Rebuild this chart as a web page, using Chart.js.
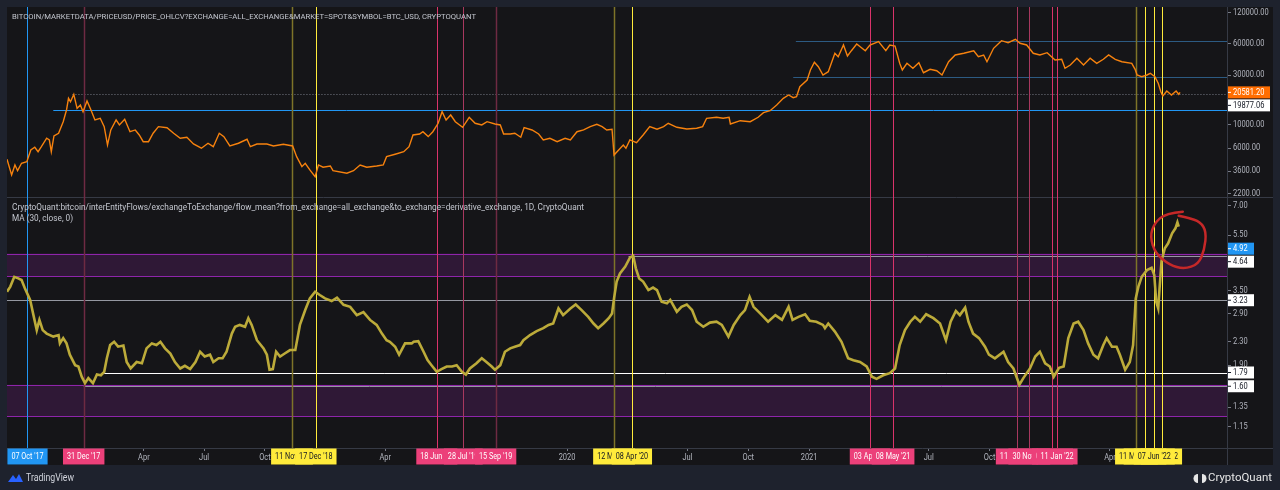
<!DOCTYPE html>
<html>
<head>
<meta charset="utf-8">
<script src="https://cdn.jsdelivr.net/npm/chart.js@4.4.0/dist/chart.umd.min.js"></script>
<style>
  html, body { margin: 0; padding: 0; background: #1e222d; }
  canvas { display: block; }
</style>
</head>
<body>
<canvas id="chart" width="1280" height="490"></canvas>
<script>
// days are counted from 2017-09-01
const START = Date.UTC(2017, 8, 1);

const priceDays = [
  5, 12, 17, 21, 27, 35, 41, 47, 52, 57,
  65, 69, 72, 76, 83, 90, 95, 98, 101, 106,
  111, 116, 120, 126, 132, 138, 146, 152, 157, 162,
  170, 175, 183, 191, 199, 205, 211, 219, 226, 234,
  247, 257, 267, 277, 287, 299, 309, 317, 326, 333,
  342, 355, 368, 373, 383, 398, 408, 423, 437, 443,
  451, 456, 463, 471, 476, 483, 494, 498, 519, 529,
  539, 549, 564, 574, 579, 592, 605, 613, 619, 629,
  634, 642, 649, 657, 663, 669, 676, 683, 694, 704,
  713, 723, 731, 743, 751, 756, 766, 773, 782, 787,
  799, 809, 816, 826, 837, 849, 857, 867, 877, 887,
  897, 905, 912, 920, 923, 930, 937, 941, 947, 957,
  967, 977, 988, 998, 1005, 1018, 1033, 1048, 1057, 1063,
  1078, 1088, 1097, 1099, 1114, 1129, 1141, 1149, 1159, 1169,
  1179, 1187, 1194, 1199, 1204, 1215, 1220, 1226, 1232, 1239,
  1247, 1257, 1262, 1270, 1276, 1282, 1290, 1303, 1310, 1323,
  1334, 1340, 1348, 1355, 1359, 1366, 1375, 1384, 1391, 1401,
  1411, 1419, 1429, 1439, 1452, 1467, 1474, 1482, 1487, 1497,
  1509, 1519, 1530, 1537, 1547, 1557, 1567, 1578, 1590, 1600,
  1605, 1613, 1623, 1633, 1643, 1653, 1663, 1671, 1681, 1691,
  1706, 1711, 1714, 1721, 1729, 1734, 1741, 1746, 1750, 1753,
  1759, 1766, 1773, 1777, 1779
];
const priceValues = [
  4690, 3310, 4130, 3640, 4290, 4440, 5760, 6110, 5540, 6190,
  7460, 7180, 5540, 7850, 8330, 10760, 13940, 18050, 16740, 19650,
  14470, 15570, 13420, 17010, 13940, 11180, 11600, 9640, 6430, 8960,
  11180, 10010, 11350, 8620, 8960, 8020, 6910, 6910, 8330, 9640,
  9420, 8330, 7460, 7630, 6570, 5980, 6680, 6190, 8330, 7730,
  6290, 6680, 7290, 6190, 6570, 6570, 6290, 6530, 6290, 4960,
  3980, 4290, 3700, 3190, 4130, 3930, 4040, 3640, 3440, 3640,
  4130, 3930, 4040, 4130, 4960, 5240, 5540, 6190, 8020, 8200,
  8620, 7730, 8620, 10390, 13420, 11180, 12480, 10760, 9510, 11870,
  10390, 10010, 10760, 10230, 10010, 8200, 8200, 8330, 7630, 9420,
  8960, 8200, 7180, 7460, 6910, 7460, 7180, 8620, 8960, 9640,
  10160, 9640, 8960, 9100, 5150, 5760, 6430, 5980, 7180, 6770,
  8020, 9640, 9100, 9640, 10390, 9510, 9160, 9300, 9640, 11600,
  11870, 11600, 11870, 10230, 11000, 10760, 11870, 13130, 13720, 15570,
  18050, 19430, 18290, 18710, 23340, 27060, 33760, 40020, 36320, 30230,
  32500, 48840, 45310, 58690, 46010, 51720, 60000, 51720, 58690, 63140,
  51720, 58690, 57390, 39150, 33760, 39150, 35050, 39680, 31810, 34280,
  33230, 30230, 40550, 47040, 48840, 51720, 45310, 47040, 40550, 54540,
  64540, 61740, 66580, 60940, 58690, 48840, 47040, 49500, 42120, 42760,
  35050, 37710, 43720, 37710, 43720, 39150, 42760, 47040, 42760, 40550,
  39150, 34280, 30230, 29110, 30230, 31380, 29110, 25160, 20890, 19000,
  21220, 19430, 21220, 19730, 20581.2
];

// MA(30) of exchange -> derivative exchange flow mean
const flowDays = [
  5, 10, 16, 22, 27, 32, 40, 45, 50, 54,
  59, 65, 75, 83, 85, 90, 95, 100, 108, 113,
  118, 123, 128, 135, 141, 147, 152, 156, 161, 167,
  173, 181, 186, 192, 201, 209, 216, 224, 231, 237,
  244, 252, 259, 267, 274, 282, 290, 297, 304, 312,
  317, 325, 331, 337, 345, 350, 357, 365, 370, 375,
  383, 393, 398, 402, 407, 412, 418, 425, 433, 441,
  448, 456, 463, 471, 478, 486, 496, 504, 514, 524,
  534, 544, 554, 564, 572, 579, 584, 592, 598, 607,
  617, 620, 627, 635, 641, 647, 655, 662, 670, 678,
  685, 693, 699, 705, 715, 723, 730, 738, 743, 751,
  758, 766, 773, 781, 786, 796, 806, 816, 824, 831,
  839, 846, 857, 865, 874, 884, 892, 899, 907, 915,
  920, 923, 927, 932, 940, 947, 952, 956, 961, 967,
  975, 982, 988, 995, 1003, 1008, 1018, 1025, 1033, 1041,
  1048, 1058, 1068, 1078, 1086, 1096, 1104, 1114, 1121, 1128,
  1134, 1144, 1156, 1167, 1177, 1187, 1193, 1202, 1212, 1219,
  1229, 1239, 1242, 1247, 1257, 1267, 1277, 1285, 1295, 1305,
  1313, 1320, 1330, 1340, 1348, 1355, 1363, 1371, 1378, 1386,
  1395, 1406, 1416, 1425, 1432, 1440, 1446, 1454, 1459, 1466,
  1475, 1484, 1490, 1499, 1512, 1519, 1527, 1536, 1542, 1552,
  1560, 1567, 1575, 1582, 1588, 1596, 1603, 1610, 1618, 1625,
  1633, 1640, 1648, 1655, 1663, 1668, 1676, 1683, 1688, 1696,
  1703, 1708, 1712, 1716, 1721, 1729, 1736, 1740, 1743, 1746,
  1748, 1751, 1756, 1761, 1767, 1772, 1775, 1777
];
const flowValues = [
  3.46, 3.61, 3.91, 3.86, 3.81, 3.56, 3.24, 2.86, 2.53, 2.75,
  2.53, 2.46, 2.40, 2.43, 2.27, 2.37, 2.27, 2.07, 1.90, 1.88,
  1.73, 1.64, 1.71, 1.64, 1.76, 1.75, 1.80, 2.01, 2.24, 2.30,
  2.21, 2.23, 1.95, 1.85, 1.95, 1.93, 2.18, 2.27, 2.24, 2.30,
  2.18, 2.09, 1.95, 1.85, 1.89, 1.84, 1.95, 2.12, 2.04, 2.07,
  1.95, 2.01, 2.01, 2.12, 2.46, 2.60, 2.64, 2.60, 2.79, 2.64,
  2.33, 2.18, 2.07, 1.83, 1.84, 2.12, 2.04, 2.09, 2.15, 2.15,
  2.64, 2.98, 3.28, 3.46, 3.37, 3.28, 3.21, 3.30, 3.11, 3.06,
  2.86, 2.93, 2.75, 2.64, 2.46, 2.33, 2.30, 2.21, 2.07, 2.27,
  2.27, 2.30, 2.31, 2.12, 1.98, 1.90, 1.80, 1.84, 1.88, 1.88,
  1.90, 1.80, 1.76, 1.85, 1.93, 2.01, 1.95, 1.88, 1.83, 1.90,
  2.12, 2.18, 2.21, 2.24, 2.33, 2.43, 2.51, 2.57, 2.64, 2.67,
  3.02, 2.86, 3.02, 3.12, 2.98, 2.82, 2.67, 2.57, 2.67, 2.79,
  2.90, 3.28, 3.76, 4.02, 4.25, 4.57, 4.64, 4.19, 3.86, 3.76,
  3.51, 3.58, 3.51, 3.19, 3.15, 3.24, 2.94, 3.06, 3.12, 2.98,
  2.71, 2.60, 2.69, 2.71, 2.64, 2.40, 2.64, 2.86, 2.98, 3.32,
  3.06, 2.90, 2.71, 2.86, 2.75, 3.06, 2.75, 2.82, 2.88, 2.73,
  2.71, 2.64, 2.57, 2.67, 2.50, 2.30, 2.01, 1.98, 1.95, 1.88,
  1.73, 1.70, 1.75, 1.78, 1.85, 2.24, 2.53, 2.71, 2.82, 2.71,
  2.88, 2.79, 2.67, 2.33, 2.71, 2.96, 2.86, 3.04, 2.71, 2.46,
  2.37, 2.21, 2.07, 2.01, 2.12, 1.95, 1.85, 1.62, 1.71, 1.85,
  2.04, 2.12, 1.93, 1.88, 1.73, 1.86, 1.88, 2.37, 2.67, 2.71,
  2.53, 2.27, 2.07, 2.01, 2.24, 2.37, 2.21, 2.21, 2.07, 1.83,
  1.95, 2.24, 3.28, 3.61, 3.91, 4.13, 4.21, 3.97, 3.19, 3.02,
  3.56, 4.45, 4.94, 5.14, 5.58, 5.81, 6.10, 5.89
];

// axis ticks
const priceTicks = [2200, 3600, 6000, 10000, 30000, 60000, 120000];
const flowTicks = [1.15, 1.35, 1.90, 2.30, 2.90, 3.50, 5.50, 7.00];
const timeTickDates = [
  '2017-10-01', '2018-01-01', '2018-04-01', '2018-07-01', '2018-10-01',
  '2019-01-01', '2019-04-01', '2019-07-01', '2019-10-01', '2020-01-01',
  '2020-04-01', '2020-07-01', '2020-10-01', '2021-01-01', '2021-04-01',
  '2021-07-01', '2021-10-01', '2022-01-01', '2022-04-01', '2022-07-01'
];
const timeTickLabels = [
  'Oct', '2018', 'Apr', 'Jul', 'Oct',
  '2019', 'Apr', 'Jul', 'Oct', '2020',
  'Apr', 'Jul', 'Oct', '2021', 'Apr',
  'Jul', 'Oct', '2022', 'Apr', 'Jul'
];

// vertical markers (drawing order matters for the overlapping date boxes)
const markerDates = [
  '2017-10-07', '2017-12-31', '2018-11-11', '2018-12-17', '2019-06-18',
  '2019-07-28', '2019-09-15', '2020-03-12', '2020-04-08', '2021-04-03',
  '2021-05-08', '2021-11-11', '2021-11-30', '2022-01-04', '2022-01-11',
  '2022-05-24', '2022-05-11', '2022-06-18', '2022-06-07'
];
const markerLabels = [
  "07 Oct '17", "31 Dec '17", "11 Nov '18", "17 Dec '18", "18 Jun '19",
  "28 Jul '19", "15 Sep '19", "12 Mar '20", "08 Apr '20", "03 Apr '21",
  "08 May '21", "11 Nov '21", "30 Nov '21", "04 Jan '22", "11 Jan '22",
  "24 May '22", "11 May '22", "18 Jun '22", "07 Jun '22"
];
const markerKinds = [
  'blue', 'maroon', 'olive', 'yellow', 'pink',
  'rose', 'maroon', 'olive', 'yellow', 'pink',
  'pink', 'rose', 'rose', 'pink', 'pink',
  'yellow', 'olive', 'yellow', 'yellow'
];

// horizontal levels
const priceLevelValues = [13900, 19877.06, 64400, 28900];
const priceLevelFrom = ['2017-11-15', '2017-12-14', '2020-12-12', '2020-12-08'];
const flowBands = [[3.93, 4.73], [1.25, 1.62]];
const flowLevelValues = [3.23, 4.64, 1.60, 1.79];
const flowLevelFrom = ['2017-09-06', '2020-04-03', '2017-12-31', '2018-01-31'];

// last-value labels on the right axis
const priceLabelValues = [20581.20, 19877.06];
const flowLabelValues = [4.92, 4.64, 3.23, 1.79, 1.60];

const FRAME = '#1e222d';
const PANEL = '#151518';
const TEXT = '#b2b5be';
const FONT = 'Roboto, "Noto Sans", "DejaVu Sans", sans-serif';

const toDay = s => (Date.parse(s + 'T00:00:00Z') - START) / 86400000;

function txt(ctx, s, x, y, o) {
  ctx.save();
  ctx.font = (o.weight ? o.weight + ' ' : '') + o.size + 'px ' + FONT;
  ctx.fillStyle = o.color;
  ctx.textBaseline = 'middle';
  ctx.textAlign = 'left';
  const w0 = ctx.measureText(s).width;
  const sx = o.width ? o.width / w0 : (o.sx || 1);
  const w = w0 * sx;
  let left = x;
  if (o.align === 'center') left = x - w / 2;
  if (o.align === 'right') left = x - w;
  ctx.translate(left, y);
  ctx.scale(sx, 1);
  ctx.fillText(s, 0, 0);
  ctx.restore();
  return w;
}

function measure(ctx, s, size, sx) {
  ctx.save();
  ctx.font = size + 'px ' + FONT;
  const w = ctx.measureText(s).width * sx;
  ctx.restore();
  return w;
}

function hline(ctx, x1, x2, y) {
  ctx.beginPath();
  ctx.moveTo(x1, Math.round(y) + 0.5);
  ctx.lineTo(x2, Math.round(y) + 0.5);
  ctx.stroke();
}

const lineColors = {
  blue: '#2196f3', maroon: '#6e2a42', olive: '#7e7428', yellow: '#ffeb3b',
  pink: '#d9336a', rose: '#a8385f'
};
const boxColors = {
  blue: '#2196f3', maroon: '#ec407a', olive: '#ffeb3b', yellow: '#ffeb3b',
  pink: '#ec407a', rose: '#ec407a'
};

const panesPlugin = {
  id: 'panes',
  beforeDraw(chart) {
    const ctx = chart.ctx;
    ctx.save();
    ctx.fillStyle = FRAME;
    ctx.fillRect(0, 0, 1280, 490);
    ctx.fillStyle = PANEL;
    ctx.fillRect(7, 7, 1266, 458);
    ctx.restore();
  },
  beforeDatasetsDraw(chart) {
    const { ctx, chartArea: a, scales: { x, yPrice, yFlow } } = chart;
    ctx.save();

    // purple zones in the flow pane
    flowBands.forEach(([lo, hi]) => {
      const y1 = yFlow.getPixelForValue(hi);
      const y2 = yFlow.getPixelForValue(lo);
      ctx.fillStyle = 'rgba(156, 39, 176, 0.2)';
      ctx.fillRect(a.left, y1, a.right - a.left, y2 - y1);
      ctx.strokeStyle = '#8e24aa';
      ctx.lineWidth = 1;
      hline(ctx, a.left, a.right, y1);
      hline(ctx, a.left, a.right, y2);
    });

    // pane separator
    ctx.strokeStyle = '#363a45';
    ctx.lineWidth = 1;
    hline(ctx, 7, 1273, yPrice.bottom);

    // price levels
    priceLevelValues.forEach((v, i) => {
      const x1 = x.getPixelForValue(toDay(priceLevelFrom[i]));
      const y = yPrice.getPixelForValue(v);
      ctx.setLineDash([]);
      if (i === 0) { ctx.strokeStyle = '#2196f3'; }
      else if (i === 1) { ctx.strokeStyle = '#787b86'; ctx.setLineDash([1, 2]); }
      else { ctx.strokeStyle = '#2c5a82'; }
      hline(ctx, x1, a.right, y);
    });
    ctx.setLineDash([]);

    // flow levels
    flowLevelValues.forEach((v, i) => {
      const x1 = x.getPixelForValue(toDay(flowLevelFrom[i]));
      const y = yFlow.getPixelForValue(v);
      ctx.strokeStyle = v === 1.79 ? '#ffffff' : '#9598a1';
      hline(ctx, Math.max(a.left, x1), a.right, y);
    });

    // vertical markers
    markerDates.forEach((d, i) => {
      const px = Math.round(x.getPixelForValue(toDay(d))) + 0.5;
      const kind = markerKinds[i];
      ctx.strokeStyle = lineColors[kind];
      ctx.lineWidth = kind === 'maroon' || kind === 'olive' ? 1.5 : 1;
      ctx.beginPath();
      ctx.moveTo(px, a.top);
      ctx.lineTo(px, a.bottom);
      ctx.stroke();
    });
    ctx.restore();
  },
  afterDraw(chart) {
    const { ctx, chartArea: a, scales: { x, yPrice, yFlow } } = chart;
    ctx.save();

    // axis frame extensions
    ctx.strokeStyle = '#363a45';
    ctx.lineWidth = 1;
    ctx.beginPath();
    ctx.moveTo(a.right + 0.5, a.bottom);
    ctx.lineTo(a.right + 0.5, 465);
    ctx.stroke();
    hline(ctx, a.right, 1273, a.bottom);

    // titles
    txt(ctx, 'BITCOIN/MARKETDATA/PRICEUSD/PRICE_OHLCV?EXCHANGE=ALL_EXCHANGE&MARKET=SPOT&SYMBOL=BTC_USD, CRYPTOQUANT',
      12, yPrice.top + 9.5, { size: 8, color: '#c3c6ce', width: 464 });
    txt(ctx, 'CryptoQuant:bitcoin/interEntityFlows/exchangeToExchange/flow_mean?from_exchange=all_exchange&to_exchange=derivative_exchange, 1D, CryptoQuant',
      12, yFlow.top + 10.5, { size: 8.5, color: '#c3c6ce', width: 572 });
    txt(ctx, 'MA (30, close, 0)', 12, yFlow.top + 22, { size: 8.5, color: '#c3c6ce', width: 61 });

    // right axis tick labels
    yPrice.ticks.forEach(t => {
      txt(ctx, t.value.toFixed(2), a.right + 6, yPrice.getPixelForValue(t.value), { size: 8.5, color: TEXT, sx: 0.88 });
    });
    yFlow.ticks.forEach(t => {
      txt(ctx, t.value.toFixed(2), a.right + 6, yFlow.getPixelForValue(t.value), { size: 8.5, color: TEXT, sx: 0.88 });
    });

    // right axis value boxes
    const axisBoxes = (scale, values, width, styles) => {
      let prevBottom = -Infinity;
      values.forEach((v, i) => {
        const c = scale.getPixelForValue(v);
        const top = Math.max(c - 6, prevBottom + 1);
        prevBottom = top + 12;
        ctx.fillStyle = styles[i][0];
        ctx.fillRect(a.right + 1, top, width, 12);
        ctx.fillStyle = styles[i][1];
        ctx.fillRect(a.right + 1, top + 5.5, 3, 1);
        txt(ctx, v.toFixed(2), a.right + 6, top + 6.5, { size: 8.5, color: styles[i][1], sx: 0.88 });
      });
    };
    axisBoxes(yPrice, priceLabelValues, 42, [['#ff6d00', '#ffffff'], ['#ffffff', '#131722']]);
    axisBoxes(yFlow, flowLabelValues, 26, [['#2196f3', '#ffffff'], ['#ffffff', '#131722'], ['#ffffff', '#131722'], ['#ffffff', '#131722'], ['#ffffff', '#131722']]);

    // time axis labels
    x.ticks.forEach(t => {
      const i = timeTickDates.findIndex(d => toDay(d) === t.value);
      txt(ctx, timeTickLabels[i], x.getPixelForValue(t.value), a.bottom + 9.5, { size: 8.5, color: TEXT, sx: 0.88, align: 'center' });
    });

    // date boxes of the markers
    markerDates.forEach((d, i) => {
      const px = x.getPixelForValue(toDay(d));
      const kind = markerKinds[i];
      const w = measure(ctx, markerLabels[i], 8.5, 0.85) + 8;
      const left = Math.max(7, px - w / 2);
      ctx.fillStyle = boxColors[kind];
      ctx.fillRect(left, a.bottom + 0.5, w, 16);
      const fg = boxColors[kind] === '#ffeb3b' ? '#131722' : '#ffffff';
      txt(ctx, markerLabels[i], left + w / 2, a.bottom + 9, { size: 8.5, color: fg, sx: 0.85, align: 'center' });
    });

    // hand drawn red circle around the latest readings
    const cx = x.getPixelForValue(toDay('2022-07-13'));
    const cy = yFlow.getPixelForValue(5.28);
    const loop = [[4.7, -28.3], [-12.5, -26.7], [-23.9, -16.7], [-28, -3.3], [-22.7, 13.3], [-8.4, 25],
      [5.9, 29], [20.2, 24.3], [26.3, 10], [28.3, -8.3], [22.2, -18.3], [10, -22.3], [0.6, -24.3]];
    ctx.strokeStyle = '#c62828';
    ctx.lineWidth = 2.5;
    ctx.lineCap = 'round';
    ctx.beginPath();
    ctx.moveTo(cx + loop[0][0], cy + loop[0][1]);
    for (let i = 1; i < loop.length - 1; i++) {
      const mx = (loop[i][0] + loop[i + 1][0]) / 2;
      const my = (loop[i][1] + loop[i + 1][1]) / 2;
      ctx.quadraticCurveTo(cx + loop[i][0], cy + loop[i][1], cx + mx, cy + my);
    }
    ctx.lineTo(cx + loop[loop.length - 1][0], cy + loop[loop.length - 1][1]);
    ctx.stroke();

    // footer logos
    ctx.fillStyle = '#2962ff';
    ctx.beginPath();
    ctx.moveTo(8, 482);
    ctx.lineTo(13, 475);
    ctx.lineTo(16, 479);
    ctx.lineTo(19, 474);
    ctx.lineTo(23, 482);
    ctx.closePath();
    ctx.fill();
    txt(ctx, 'TradingView', 26, 478.5, { size: 10, color: '#d1d4dc', width: 48 });

    ctx.fillStyle = '#e6e6e6';
    ctx.beginPath();
    ctx.arc(1198, 478.5, 4.5, Math.PI / 2, Math.PI * 1.5);
    ctx.fill();
    ctx.beginPath();
    ctx.arc(1202, 478.5, 4.5, -Math.PI / 2, Math.PI / 2);
    ctx.fill();
    txt(ctx, 'CryptoQuant', 1208, 478.5, { size: 11.5, color: '#e6e6e6', width: 64 });
    ctx.restore();
  }
};

const fixedTicks = values => scale => { scale.ticks = values.map(v => ({ value: v })); };

const chart = new Chart(document.getElementById('chart'), {
  type: 'line',
  data: {
    datasets: [{
      label: 'BTC price',
      data: priceDays.map((d, i) => ({ x: d, y: priceValues[i] })),
      yAxisID: 'yPrice',
      borderColor: '#f7820e',
      borderWidth: 1.4,
      pointRadius: 0,
      tension: 0
    }, {
      label: 'MA (30, close, 0)',
      data: flowDays.map((d, i) => ({ x: d, y: flowValues[i] })),
      yAxisID: 'yFlow',
      borderColor: '#bcab3a',
      borderWidth: 2.6,
      pointRadius: 0,
      tension: 0
    }]
  },
  options: {
    responsive: false,
    animation: false,
    devicePixelRatio: 1,
    layout: { padding: { left: 7, top: 7, right: 0, bottom: 0 } },
    plugins: { legend: { display: false }, tooltip: { enabled: false } },
    scales: {
      x: {
        type: 'linear',
        bounds: 'data',
        min: 5,
        max: 1850,
        afterBuildTicks: fixedTicks(timeTickDates.map(toDay)),
        afterFit: s => { s.height = 42; },
        ticks: { display: false },
        grid: { drawOnChartArea: false, tickLength: 3, tickColor: '#787b86' },
        border: { color: '#363a45' }
      },
      yPrice: {
        type: 'logarithmic',
        position: 'right',
        stack: 'panes',
        stackWeight: 190,
        bounds: 'data',
        min: 2034,
        max: 135960,
        afterBuildTicks: fixedTicks(priceTicks),
        afterFit: s => { s.width = 53; },
        ticks: { display: false },
        grid: { drawOnChartArea: false, tickLength: 4, tickColor: '#787b86' },
        border: { color: '#363a45' }
      },
      yFlow: {
        type: 'logarithmic',
        position: 'right',
        stack: 'panes',
        stackWeight: 251,
        bounds: 'data',
        min: 0.9663,
        max: 7.503,
        afterBuildTicks: fixedTicks(flowTicks),
        afterFit: s => { s.width = 53; },
        ticks: { display: false },
        grid: { drawOnChartArea: false, tickLength: 4, tickColor: '#787b86' },
        border: { color: '#363a45' }
      }
    }
  },
  plugins: [panesPlugin]
});
</script>
</body>
</html>
